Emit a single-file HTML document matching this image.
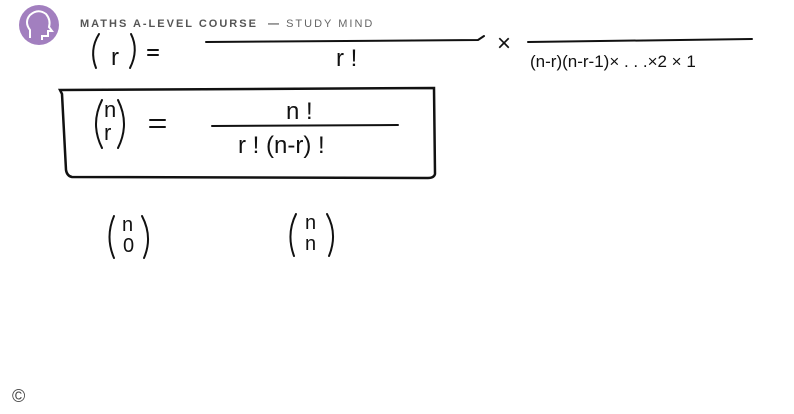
<!DOCTYPE html>
<html><head><meta charset="utf-8"><style>
body{margin:0;width:794px;height:414px;background:#fff;position:relative;overflow:hidden;font-family:"Liberation Sans",sans-serif;color:#111}
.t{position:absolute;white-space:nowrap}
</style></head><body>
<svg width="794" height="414" style="position:absolute;left:0;top:0">
<circle cx="39" cy="25" r="20" fill="#a27fbf"/>
<path d="M30 38 V30 Q24 22 30 15 Q38 8 46 14 Q51 20 49 27 L52 31 H48 V36 H42 V40" fill="none" stroke="#fff" stroke-width="2"/>
<g fill="none" stroke="#111" stroke-width="2" stroke-linecap="round">
<path d="M99 34 Q89 50 96 68"/><path d="M131 34 Q139 50 130 68"/>
<path d="M148 50 h10 M148 55 h10"/>
<path d="M206 42 L478 40 M478 40 L484 36"/>
<path d="M528 42 L752 39"/>
<path d="M60 90 L434 88 L435 174 Q434 178 428 178 L72 177 Q67 176 66 170 L62 94 Z" stroke-width="2.5"/>
<path d="M102 148 Q90 124 102 100"/><path d="M118 100 Q130 124 118 148"/>
<path d="M150 120 h15 M150 127 h15"/>
<path d="M212 126 L398 125"/>
<path d="M114 216 Q105 237 114 258"/><path d="M142 216 Q153 237 144 258"/>
<path d="M296 214 Q286 234 294 256"/><path d="M327 214 Q338 234 329 256"/>
</g>
</svg>
<div class="t" style="left:80px;top:18px;font-size:11px;font-weight:bold;letter-spacing:2px;color:#555">MATHS A-LEVEL COURSE &nbsp;— <span style="font-weight:normal;color:#666">STUDY MIND</span></div>
<div class="t" style="left:111px;top:44px;font-size:24px">r</div>
<div class="t" style="left:336px;top:45px;font-size:24px">r !</div>
<div class="t" style="left:497px;top:30px;font-size:24px">×</div>
<div class="t" style="left:530px;top:52px;font-size:17px">(n-r)(n-r-1)× . . .×2 × 1</div>
<div class="t" style="left:104px;top:97px;font-size:22px">n</div>
<div class="t" style="left:104px;top:120px;font-size:22px">r</div>
<div class="t" style="left:286px;top:98px;font-size:24px">n !</div>
<div class="t" style="left:238px;top:132px;font-size:24px">r ! (n-r) !</div>
<div class="t" style="left:122px;top:214px;font-size:20px">n</div>
<div class="t" style="left:123px;top:235px;font-size:20px">0</div>
<div class="t" style="left:305px;top:212px;font-size:20px">n</div>
<div class="t" style="left:305px;top:233px;font-size:20px">n</div>
<div class="t" style="left:12px;top:386px;font-size:18px;color:#444">©</div>
</body></html>
